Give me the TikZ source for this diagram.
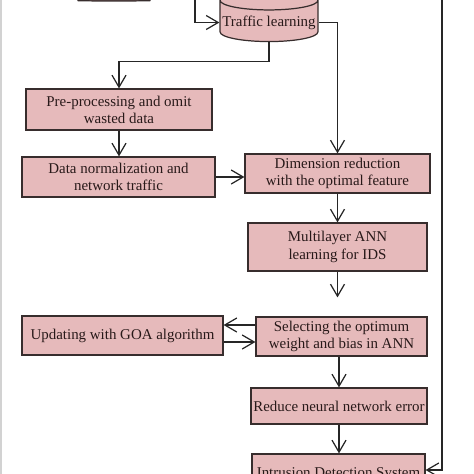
\documentclass[tikz,border=0pt]{standalone}
\usepackage{fontspec}
\setmainfont{Liberation Serif}
\usetikzlibrary{positioning,arrows.meta,shapes.geometric}
\definecolor{boxpink}{RGB}{230,186,187}
\definecolor{boxline}{RGB}{55,45,45}
\definecolor{txtdark}{RGB}{40,25,25}
\definecolor{srcdark}{RGB}{110,85,85}

\begin{document}
\begin{tikzpicture}[
  x=0.02cm, y=-0.02cm,
  every node/.style={font=\fontsize{8.5}{9.8}\selectfont, text=txtdark},
  blk/.style={draw=boxline, fill=boxpink, line width=0.7pt, align=center, inner sep=1pt},
  db/.style={cylinder, shape border rotate=90, draw=boxline, fill=boxpink, line width=0.7pt, aspect=0.2, inner sep=1pt},
  flow/.style={draw=black!85, line width=0.7pt, -{Straight Barb[length=2.4mm,width=2.8mm]}}
]
\useasboundingbox (0,0) rectangle (474,474);
\fill[gray!35] (0,0) rectangle (2.5,474);

\node[db, fill=srcdark, minimum width=1.44cm, minimum height=1cm] (src) at (114,-23.5) {};
\node[db, minimum width=1.96cm, minimum height=1.02cm] (traffic) at (269,22.5) {Traffic learning};

\node[blk, minimum width=3.72cm, minimum height=0.82cm] (pre) at (119,109.5) {Pre-processing and omit\\wasted data};
\node[blk, minimum width=3.86cm, minimum height=0.80cm] (norm) at (118.5,177) {Data normalization and\\network traffic};
\node[blk, minimum width=3.70cm, minimum height=0.78cm] (dim) at (337.5,173.5) {Dimension reduction\\with the optimal feature};
\node[blk, minimum width=3.58cm, minimum height=0.96cm] (ann) at (337.5,247) {Multilayer ANN\\learning for IDS};
\node[blk, minimum width=4.02cm, minimum height=0.78cm] (upd) at (122.5,335.5) {Updating with GOA algorithm};
\node[blk, minimum width=3.42cm, minimum height=0.78cm] (sel) at (341.5,336.5) {Selecting the optimum\\weight and bias in ANN};
\node[blk, minimum width=3.52cm, minimum height=0.72cm] (red) at (339,406) {Reduce neural network error};
\node[blk, minimum width=3.46cm, minimum height=0.80cm] (ids) at (338.5,474) {Intrusion Detection System};

\coordinate (in) at (195,0);
\coordinate (loop) at (442,0);

\draw[flow] (in) |- (traffic.west);
\draw[flow] (traffic.east) -| (dim.north);
\draw[flow] (traffic.south) -- ++(0,19) -| (pre.north);
\draw[flow] (pre.south) -- (pre.south |- norm.north);
\draw[flow] (norm.east) -- (norm.east -| dim.west);
\draw[flow] (dim.south) -- (dim.south |- ann.north);
\draw[flow, shorten >=0.38cm] (ann.south) -- (ann.south |- sel.north);
\draw[flow] ([yshift=0.23cm]sel.west) -- ([yshift=0.23cm]sel.west -| upd.east);
\draw[flow] ([yshift=-0.13cm]upd.east) -- ([yshift=-0.13cm]upd.east -| sel.west);
\draw[flow] (sel.south -| red.north) -- (red.north);
\draw[flow] (red.south) -- (red.south |- ids.north);
\draw[flow] (loop) |- ([yshift=0.08cm]ids.east);
\end{tikzpicture}
\end{document}
